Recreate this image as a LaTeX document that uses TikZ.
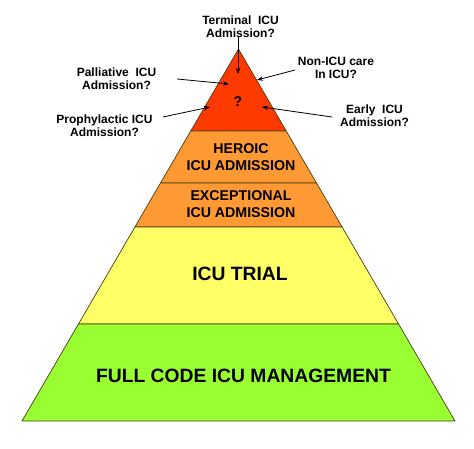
\documentclass[tikz,border=0pt]{standalone}
\usepackage{fontspec}
\setmainfont{Liberation Sans}
\usetikzlibrary{calc,arrows.meta}

\definecolor{tipred}{RGB}{255,58,0}
\definecolor{bandorange}{RGB}{255,153,51}
\definecolor{trialyellow}{RGB}{255,255,102}
\definecolor{codegreen}{RGB}{153,255,51}
\definecolor{edgeolive}{RGB}{70,60,20}

\tikzset{
  band/.style={draw=edgeolive,line width=0.7pt,line join=round},
  lbl/.style={align=center,font=\fontsize{12}{13}\selectfont\bfseries,inner sep=0pt},
  bandtxt/.style={align=center,font=\fontsize{14.2}{17}\selectfont\bfseries,inner sep=0pt},
  bigtxt/.style={font=\fontsize{19.3}{22}\selectfont\bfseries,inner sep=0pt},
  pointer/.style={line width=0.8pt,-{Stealth[length=6pt,width=4.5pt]}}
}

\begin{document}
\begin{tikzpicture}[x=1pt,y=-1pt]
  \useasboundingbox (0,0) rectangle (474,449);
  \coordinate (A) at (238.5,49);
  \coordinate (BL) at (22,421);
  \coordinate (BR) at (455,421);
  % pyramid bands, top to bottom
  \foreach \ta/\tb/\col in {0/0.2204/tipred, 0.2204/0.3602/bandorange,
      0.3602/0.4785/bandorange, 0.4785/0.7392/trialyellow, 0.7392/1/codegreen}
    \draw[band,fill=\col] ($(A)!\ta!(BL)$) -- ($(A)!\tb!(BL)$) -- ($(A)!\tb!(BR)$) -- ($(A)!\ta!(BR)$) -- cycle;

  \node[bandtxt] (qmark) at (238,102) {?};
  \node[bandtxt] (heroic) at (241,157.5) {HEROIC\\ICU ADMISSION};
  \node[bandtxt] (except) at (241,204.5) {EXCEPTIONAL\\ICU ADMISSION};
  \node[bigtxt] (trial) at (240,274) {ICU TRIAL};
  \node[bigtxt] (full) at (243.5,376) {FULL CODE ICU MANAGEMENT};

  % questions around the tip
  \node[lbl] (term) at (240.5,26.5) {Terminal\ \ ICU\\Admission?};
  \node[lbl] (pall) at (116.5,78.5) {Palliative\ \ ICU\\Admission?};
  \node[lbl] (prop) at (104.5,125.5) {Prophylactic ICU\\Admission?};
  \node[lbl] (nonicu) at (336,68) {Non-ICU care\\In ICU?};
  \node[lbl] (early) at (374.5,116) {Early\ \ ICU\\Admission?};

  \coordinate (termS) at (238,37);
  \coordinate (termE) at (238,74);
  \coordinate (pallS) at (177,79);
  \coordinate (pallE) at (229,84);
  \coordinate (propS) at (163,117);
  \coordinate (propE) at (210,107);
  \coordinate (nonS) at (295,70);
  \coordinate (nonE) at (257,80);
  \coordinate (earlyS) at (332,117);
  \coordinate (earlyE) at (262,107);
  \draw[pointer] (termS) -- (termE);
  \draw[pointer] (pallS) -- (pallE);
  \draw[pointer] (propS) -- (propE);
  \draw[pointer] (nonS) -- (nonE);
  \draw[pointer] (earlyS) -- (earlyE);
\end{tikzpicture}
\end{document}
